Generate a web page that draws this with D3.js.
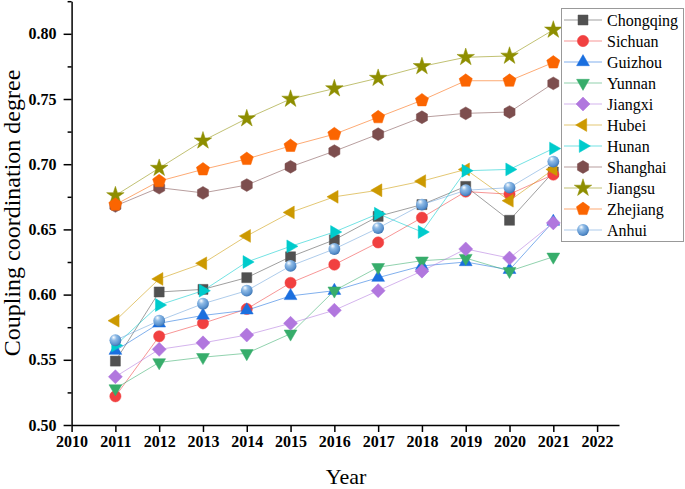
<!DOCTYPE html>
<html>
<head>
<meta charset="utf-8">
<script src="https://cdn.jsdelivr.net/npm/d3@7"></script>
<style>
  body { margin: 0; background: #fff; }
  svg { display: block; font-family: "Liberation Serif", "Times New Roman", serif; }
</style>
</head>
<body>
<div id="chart"></div>
<script>
const years = [2011, 2012, 2013, 2014, 2015, 2016, 2017, 2018, 2019, 2020, 2021];
const xTicks = [2010, 2011, 2012, 2013, 2014, 2015, 2016, 2017, 2018, 2019, 2020, 2021, 2022];
const yTicks = [0.50, 0.55, 0.60, 0.65, 0.70, 0.75, 0.80];

const chongqing = [0.549, 0.602, 0.604, 0.613, 0.629, 0.642, 0.660, 0.669, 0.683, 0.657, 0.694];
const sichuan   = [0.522, 0.568, 0.578, 0.589, 0.609, 0.623, 0.640, 0.659, 0.679, 0.677, 0.692];
const guizhou   = [0.557, 0.578, 0.584, 0.588, 0.599, 0.603, 0.613, 0.622, 0.625, 0.619, 0.656];
const yunnan    = [0.528, 0.548, 0.552, 0.555, 0.570, 0.603, 0.621, 0.626, 0.628, 0.618, 0.629];
const jiangxi   = [0.537, 0.558, 0.563, 0.569, 0.578, 0.588, 0.603, 0.618, 0.635, 0.628, 0.655];
const hubei     = [0.580, 0.612, 0.624, 0.645, 0.663, 0.675, 0.680, 0.687, 0.696, 0.672, 0.696];
const hunan     = [0.561, 0.592, 0.603, 0.625, 0.637, 0.648, 0.662, 0.648, 0.695, 0.696, 0.712];
const shanghai  = [0.668, 0.682, 0.678, 0.684, 0.698, 0.710, 0.723, 0.736, 0.739, 0.740, 0.762];
const jiangsu   = [0.676, 0.697, 0.718, 0.735, 0.750, 0.758, 0.766, 0.775, 0.782, 0.783, 0.803];
const zhejiang  = [0.669, 0.687, 0.696, 0.704, 0.714, 0.723, 0.736, 0.749, 0.764, 0.764, 0.778];
const anhui     = [0.565, 0.580, 0.593, 0.603, 0.622, 0.635, 0.651, 0.669, 0.680, 0.682, 0.702];

const series = [
  { name: "Chongqing", values: chongqing, color: "#515151", shape: "square" },
  { name: "Sichuan",   values: sichuan,   color: "#F14040", shape: "circle" },
  { name: "Guizhou",   values: guizhou,   color: "#1A6FDF", shape: "triUp" },
  { name: "Yunnan",    values: yunnan,    color: "#37AD6B", shape: "triDown" },
  { name: "Jiangxi",   values: jiangxi,   color: "#B177DE", shape: "diamond" },
  { name: "Hubei",     values: hubei,     color: "#CC9900", shape: "triLeft" },
  { name: "Hunan",     values: hunan,     color: "#00CBCC", shape: "triRight" },
  { name: "Shanghai",  values: shanghai,  color: "#7D4E4E", shape: "hexagon" },
  { name: "Jiangsu",   values: jiangsu,   color: "#8E8E00", shape: "star" },
  { name: "Zhejiang",  values: zhejiang,  color: "#FB6501", shape: "pentagon" },
  { name: "Anhui",     values: anhui,     color: "#6CA2DA", shape: "sphere" }
];

const width = 685, height = 489;
const svg = d3.select("#chart").append("svg").attr("width", width).attr("height", height);

const defs = svg.append("defs");
const grad = defs.append("radialGradient").attr("id", "sphere")
  .attr("cx", "40%").attr("cy", "35%").attr("r", "65%").attr("fx", "35%").attr("fy", "25%");
grad.append("stop").attr("offset", "0%").attr("stop-color", "#ffffff");
grad.append("stop").attr("offset", "35%").attr("stop-color", "#8fbbe6");
grad.append("stop").attr("offset", "80%").attr("stop-color", "#5b93cf");
grad.append("stop").attr("offset", "100%").attr("stop-color", "#3f76b3");

const x = d3.scaleLinear().domain([2010, 2022.5]).range([71.6, 619]);
const y = d3.scaleLinear().domain([0.5, 0.825]).range([425, 1.2]);

function polygon(n, r, rot) {
  const pts = d3.range(n).map(i => {
    const a = rot + i * 2 * Math.PI / n;
    return [r * Math.sin(a), -r * Math.cos(a)];
  });
  return "M" + pts.join("L") + "Z";
}

const markerPath = {
  square: d3.symbol(d3.symbolSquare, 100)(),
  circle: d3.symbol(d3.symbolCircle, 100)(),
  triUp: polygon(3, 7.4, 0),
  triDown: polygon(3, 7.4, Math.PI),
  triLeft: polygon(3, 7.4, -Math.PI / 2),
  triRight: polygon(3, 7.4, Math.PI / 2),
  diamond: polygon(4, 7, 0),
  hexagon: polygon(6, 6.4, 0),
  star: d3.symbol(d3.symbolStar, 95)(),
  pentagon: polygon(5, 6.9, 0),
  sphere: d3.symbol(d3.symbolCircle, 110)()
};

function drawMarker(g, s) {
  g.append("path")
    .attr("d", markerPath[s.shape])
    .attr("fill", s.shape === "sphere" ? "url(#sphere)" : s.color)
    .attr("stroke", s.shape === "sphere" ? "none" : s.color)
    .attr("stroke-width", 0.5);
}

// axes
svg.append("g").attr("transform", `translate(0,${y(0.5)})`)
  .call(d3.axisBottom(x).tickValues(xTicks).tickFormat(d3.format("d")).tickSize(7).tickSizeOuter(0).tickPadding(4));
const yMinor = svg.append("g").attr("transform", `translate(${x(2010)},0)`)
  .call(d3.axisLeft(y).tickValues(d3.range(0.525, 0.83, 0.05)).tickFormat("").tickSize(4).tickSizeOuter(0));
yMinor.select(".domain").remove();
svg.append("g").attr("transform", `translate(${x(2010)},0)`)
  .call(d3.axisLeft(y).tickValues(yTicks).tickFormat(d3.format(".2f")).tickSize(8).tickSizeOuter(0).tickPadding(7));

svg.selectAll(".domain, .tick line").attr("stroke", "#000").attr("stroke-width", 1.5);
svg.selectAll(".tick text").attr("font-family", "Liberation Serif").attr("font-weight", "bold")
  .attr("font-size", 16).attr("fill", "#000");

// series
const plot = svg.append("g");
const line = d3.line().x((d, i) => x(years[i])).y(d => y(d));
series.forEach(s => {
  plot.append("path").datum(s.values)
    .attr("d", line)
    .attr("fill", "none")
    .attr("stroke", s.color)
    .attr("stroke-opacity", 0.55)
    .attr("stroke-width", 1);
  s.values.forEach((v, i) => {
    const g = plot.append("g").attr("transform", `translate(${x(years[i])},${y(v)})`);
    drawMarker(g, s);
  });
});

// axis titles
svg.append("text")
  .attr("transform", "translate(20,213) rotate(-90)")
  .attr("text-anchor", "middle")
  .attr("font-size", 24)
  .text("Coupling coordination degree");
svg.append("text")
  .attr("x", 346).attr("y", 484)
  .attr("text-anchor", "middle")
  .attr("font-size", 22)
  .text("Year");

// legend
const legend = svg.append("g");
legend.append("rect")
  .attr("x", 561.5).attr("y", 8.5).attr("width", 122).attr("height", 233)
  .attr("fill", "#fff").attr("stroke", "#999").attr("stroke-width", 1);
series.forEach((s, i) => {
  const ly = 20 + i * 21;
  legend.append("line")
    .attr("x1", 564).attr("x2", 602).attr("y1", ly).attr("y2", ly)
    .attr("stroke", s.color).attr("stroke-opacity", 0.55).attr("stroke-width", 1);
  drawMarker(legend.append("g").attr("transform", `translate(583,${ly})`), s);
  legend.append("text")
    .attr("x", 607).attr("y", ly + 5.5)
    .attr("font-size", 16)
    .text(s.name);
});
</script>
</body>
</html>
